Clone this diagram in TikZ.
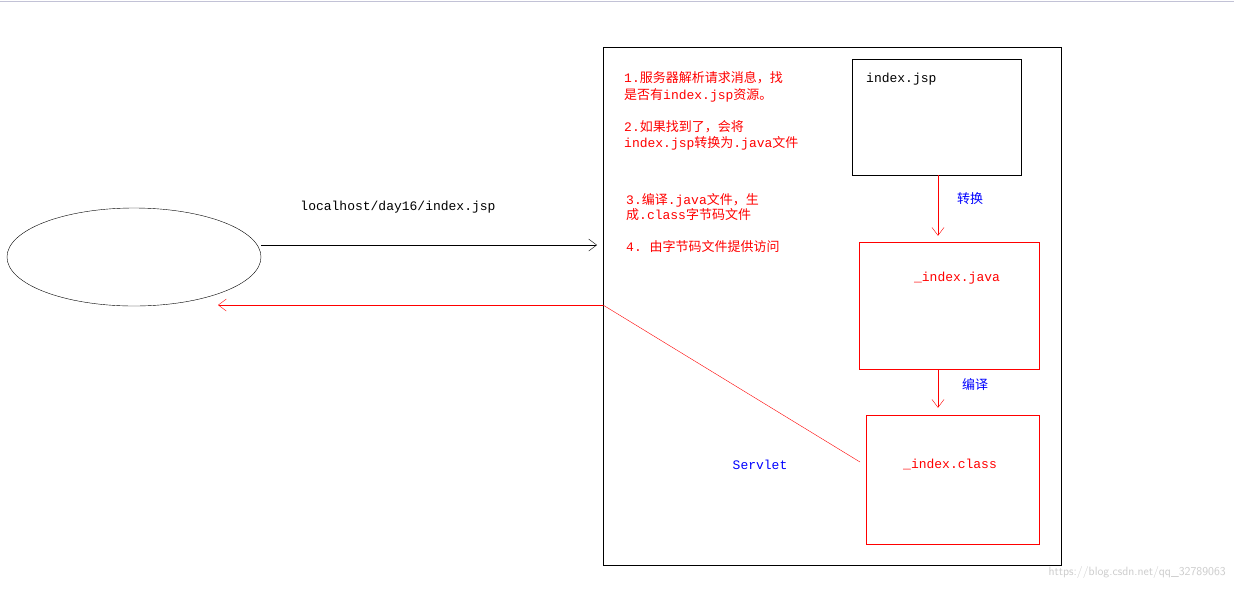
\documentclass[tikz,border=0pt]{standalone}
\usepackage{fontspec}
\setmonofont{Liberation Mono}
\newfontfamily\cjk{Noto Sans CJK SC}
\newcommand{\C}[1]{{\cjk #1}}
\usetikzlibrary{arrows.meta,shapes.geometric}
\begin{document}
\begin{tikzpicture}[x=1pt,y=-1pt,
  txt/.style={font=\ttfamily\fontsize{13}{15}\selectfont,inner sep=0pt},
  red txt/.style={txt,text=red,anchor=west},
  blue txt/.style={txt,text=blue},
  rbox/.style={draw=red},
  arr/.style={-{Straight Barb[length=8pt,width=12pt]}}]
\useasboundingbox (0,0) rectangle (1234,590);
\fill[white] (0,0) rectangle (1234,590);
\draw[color=blue!20!gray!40] (0,1) -- (1234,1);
\node[draw,ellipse,minimum width=254pt,minimum height=98pt,inner sep=0pt] (client) at (134,257) {};
\node[draw,minimum width=458pt,minimum height=518pt,inner sep=0pt] (server) at (832,306) {};
\node[draw,minimum width=169pt,minimum height=116pt,inner sep=0pt] (jsp) at (936.5,117) {};
\node[txt,anchor=west] at (866,79) {index.jsp};
\node[rbox,minimum width=180pt,minimum height=127pt,inner sep=0pt] (java) at (949,305.5) {};
\node[txt,text=red] at (957,278) {\_index.java};
\node[rbox,minimum width=173pt,minimum height=129pt,inner sep=0pt] (class) at (952.5,479.5) {};
\node[txt,text=red] at (950,464) {\_index.class};
\coordinate (ax) at (938,0);
\draw[red,arr,shorten >=6pt] (jsp.south -| ax) -- (java.north -| ax);
\node[blue txt] at (970,199) {\C{转换}};
\draw[red,arr,shorten >=7pt] (java.south -| ax) -- (class.north -| ax);
\node[blue txt] at (975,385) {\C{编译}};
\coordinate (reqend) at (597,245);
\draw[arr] (client.east |- reqend) -- (reqend);
\node[txt] at (398,207) {localhost/day16/index.jsp};
\coordinate (resp) at (603,305);
\coordinate (respend) at (218,305);
\draw[red,arr] (resp) -- (respend);
\coordinate (cl) at (860,462);
\draw[red] (resp) -- (cl);
\node[blue txt] at (760,465) {Servlet};
\node[red txt] at (624,78) {1.\C{服务器解析请求消息，找}};
\node[red txt] at (624,95) {\C{是否有}index.jsp\C{资源。}};
\node[red txt] at (624,127) {2.\C{如果找到了，会将}};
\node[red txt] at (624,143) {index.jsp\C{转换为}.java\C{文件}};
\node[red txt] at (626,200) {3.\C{编译}.java\C{文件，生}};
\node[red txt] at (626,215) {\C{成}.class\C{字节码文件}};
\node[red txt] at (626,247) {4. \C{由字节码文件提供访问}};
\node[font=\sffamily\fontsize{12}{14}\selectfont,text=gray!40,anchor=east,inner sep=0pt] at (1226,572) {https://blog.csdn.net/qq\_32789063};
\end{tikzpicture}
\end{document}
